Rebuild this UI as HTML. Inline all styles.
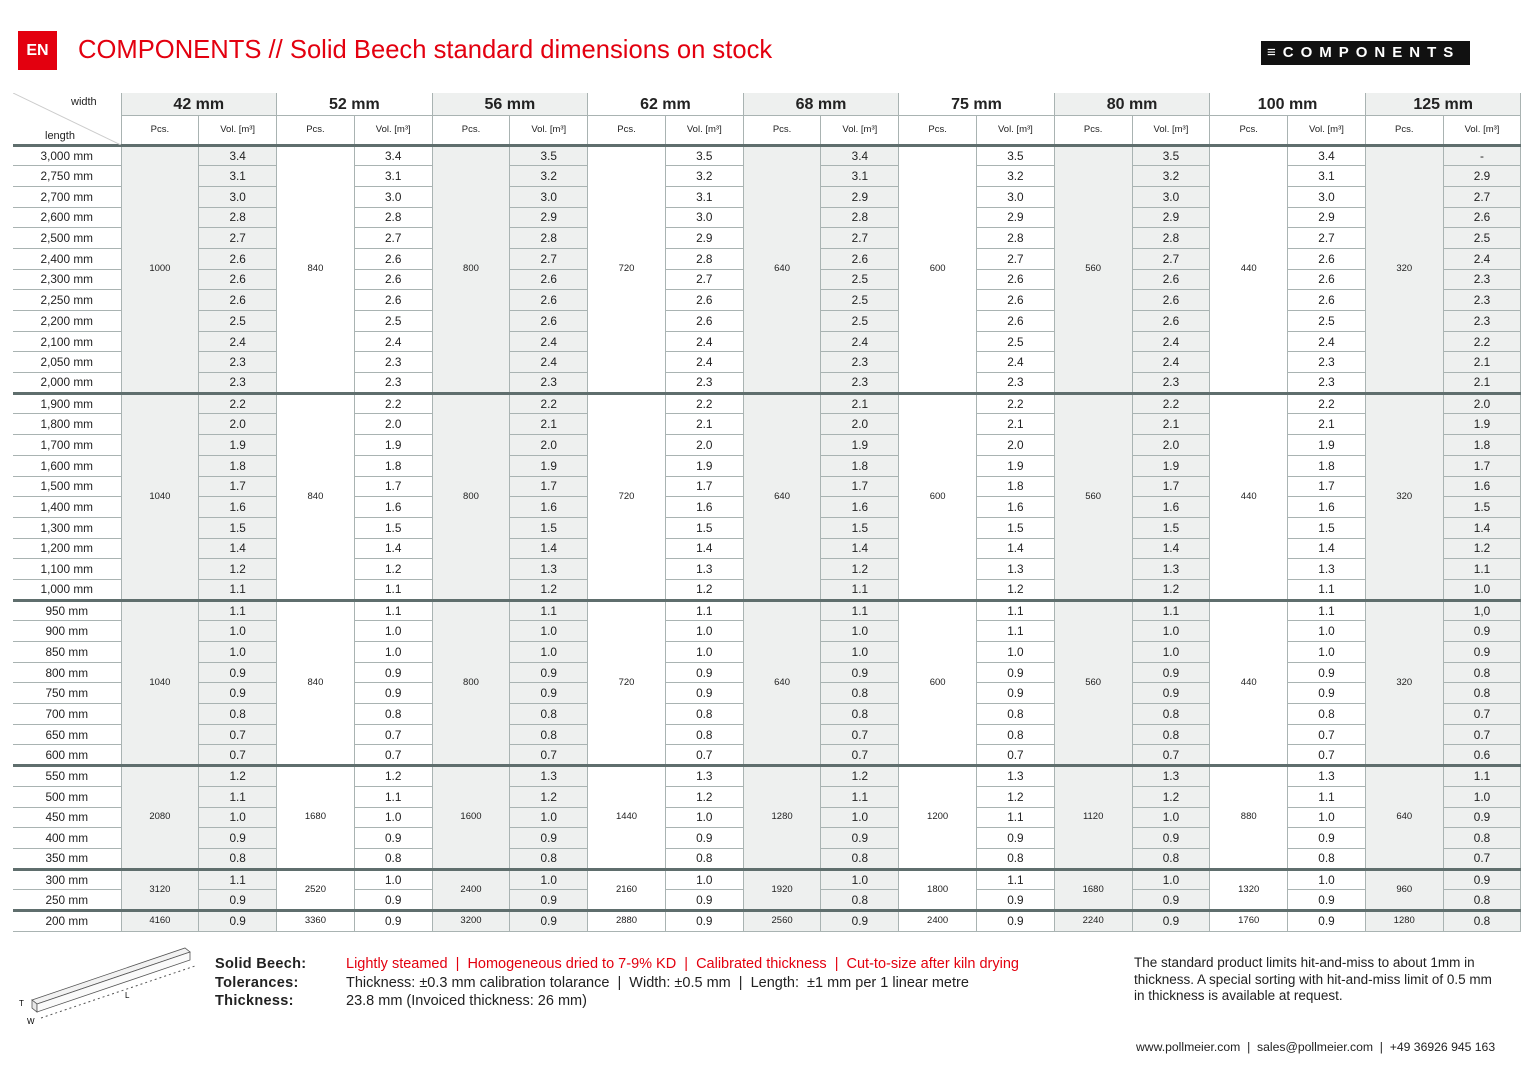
<!DOCTYPE html>
<html><head><meta charset="utf-8"><style>
*{margin:0;padding:0;box-sizing:border-box}
body{width:1536px;height:1086px;background:#fff;font-family:"Liberation Sans",Arial,sans-serif;color:#222;position:relative;overflow:hidden}
.en{position:absolute;left:18px;top:31px;width:39px;height:39px;background:#e3000f;color:#fff;font-weight:bold;font-size:16px;line-height:39px;text-align:center}
.title{position:absolute;left:78px;top:36px;font-size:25.6px;color:#e3000f;white-space:nowrap}
.logo{position:absolute;left:1261px;top:41px;width:209px;height:24px;background:#111;color:#fff;font-weight:bold;font-size:15px;line-height:24px;letter-spacing:7px;padding-left:6px;white-space:nowrap}
table{position:absolute;left:13px;top:93px;width:1508px;border-collapse:collapse;table-layout:fixed}
col.l{width:108px}
col.c{width:77.78px}
col.g{width:77.78px;background:#eef0ef}
td{border:1px solid #a9b3b2;text-align:center;font-size:11.8px;height:20.7px;line-height:14px;padding:0;white-space:nowrap}
td.p{font-size:9.5px}
tr.h1 td{height:22px;font-size:16px;font-weight:bold;border-top:none;padding-top:2px}
tr.h2 td{height:30px;font-size:9.5px;background:#fff}
tr.t td{border-top:3px solid #5f6e6d}
td.len{background:#fff;border-left:none}
td.corner{border:none;border-bottom:3px solid #5f6e6d;position:relative;background:#fff;font-weight:normal !important}
.lab{position:absolute;left:215px;top:955px;font-size:14.5px;font-weight:bold;line-height:18.5px;letter-spacing:.3px}
.val{position:absolute;left:346px;top:955px;font-size:14.5px;line-height:18.5px;white-space:nowrap}
.red{color:#e3000f}
.note{position:absolute;left:1134px;top:955px;width:388px;font-size:13.5px;line-height:16.5px}
.foot{position:absolute;left:1136px;top:1040px;font-size:12.2px;white-space:nowrap}
</style></head><body>
<div class="en">EN</div>
<div class="title">COMPONENTS // Solid Beech standard dimensions on stock</div>
<div class="logo">≡COMPONENTS</div>
<table>
<colgroup><col class="l"><col class="g"><col class="g"><col class="c"><col class="c"><col class="g"><col class="g"><col class="c"><col class="c"><col class="g"><col class="g"><col class="c"><col class="c"><col class="g"><col class="g"><col class="c"><col class="c"><col class="g"><col class="g"></colgroup>
<tr class="h1"><td class="corner" rowspan="2"><svg width="108" height="52" style="position:absolute;left:0;top:0"><line x1="0" y1="0" x2="108" y2="52" stroke="#ccc" stroke-width="1"/><text x="58" y="12" font-size="11" font-weight="normal" font-family="Liberation Sans" fill="#222">width</text><text x="32" y="46" font-size="11" font-weight="normal" font-family="Liberation Sans" fill="#222">length</text></svg></td><td colspan="2">42 mm</td><td colspan="2">52 mm</td><td colspan="2">56 mm</td><td colspan="2">62 mm</td><td colspan="2">68 mm</td><td colspan="2">75 mm</td><td colspan="2">80 mm</td><td colspan="2">100 mm</td><td colspan="2">125 mm</td></tr>
<tr class="h2"><td>Pcs.</td><td>Vol. [m³]</td><td>Pcs.</td><td>Vol. [m³]</td><td>Pcs.</td><td>Vol. [m³]</td><td>Pcs.</td><td>Vol. [m³]</td><td>Pcs.</td><td>Vol. [m³]</td><td>Pcs.</td><td>Vol. [m³]</td><td>Pcs.</td><td>Vol. [m³]</td><td>Pcs.</td><td>Vol. [m³]</td><td>Pcs.</td><td>Vol. [m³]</td></tr>
<tr class="t"><td class="len">3,000 mm</td><td class="p" rowspan="12">1000</td><td>3.4</td><td class="p" rowspan="12">840</td><td>3.4</td><td class="p" rowspan="12">800</td><td>3.5</td><td class="p" rowspan="12">720</td><td>3.5</td><td class="p" rowspan="12">640</td><td>3.4</td><td class="p" rowspan="12">600</td><td>3.5</td><td class="p" rowspan="12">560</td><td>3.5</td><td class="p" rowspan="12">440</td><td>3.4</td><td class="p" rowspan="12">320</td><td>-</td></tr>
<tr><td class="len">2,750 mm</td><td>3.1</td><td>3.1</td><td>3.2</td><td>3.2</td><td>3.1</td><td>3.2</td><td>3.2</td><td>3.1</td><td>2.9</td></tr>
<tr><td class="len">2,700 mm</td><td>3.0</td><td>3.0</td><td>3.0</td><td>3.1</td><td>2.9</td><td>3.0</td><td>3.0</td><td>3.0</td><td>2.7</td></tr>
<tr><td class="len">2,600 mm</td><td>2.8</td><td>2.8</td><td>2.9</td><td>3.0</td><td>2.8</td><td>2.9</td><td>2.9</td><td>2.9</td><td>2.6</td></tr>
<tr><td class="len">2,500 mm</td><td>2.7</td><td>2.7</td><td>2.8</td><td>2.9</td><td>2.7</td><td>2.8</td><td>2.8</td><td>2.7</td><td>2.5</td></tr>
<tr><td class="len">2,400 mm</td><td>2.6</td><td>2.6</td><td>2.7</td><td>2.8</td><td>2.6</td><td>2.7</td><td>2.7</td><td>2.6</td><td>2.4</td></tr>
<tr><td class="len">2,300 mm</td><td>2.6</td><td>2.6</td><td>2.6</td><td>2.7</td><td>2.5</td><td>2.6</td><td>2.6</td><td>2.6</td><td>2.3</td></tr>
<tr><td class="len">2,250 mm</td><td>2.6</td><td>2.6</td><td>2.6</td><td>2.6</td><td>2.5</td><td>2.6</td><td>2.6</td><td>2.6</td><td>2.3</td></tr>
<tr><td class="len">2,200 mm</td><td>2.5</td><td>2.5</td><td>2.6</td><td>2.6</td><td>2.5</td><td>2.6</td><td>2.6</td><td>2.5</td><td>2.3</td></tr>
<tr><td class="len">2,100 mm</td><td>2.4</td><td>2.4</td><td>2.4</td><td>2.4</td><td>2.4</td><td>2.5</td><td>2.4</td><td>2.4</td><td>2.2</td></tr>
<tr><td class="len">2,050 mm</td><td>2.3</td><td>2.3</td><td>2.4</td><td>2.4</td><td>2.3</td><td>2.4</td><td>2.4</td><td>2.3</td><td>2.1</td></tr>
<tr><td class="len">2,000 mm</td><td>2.3</td><td>2.3</td><td>2.3</td><td>2.3</td><td>2.3</td><td>2.3</td><td>2.3</td><td>2.3</td><td>2.1</td></tr>
<tr class="t"><td class="len">1,900 mm</td><td class="p" rowspan="10">1040</td><td>2.2</td><td class="p" rowspan="10">840</td><td>2.2</td><td class="p" rowspan="10">800</td><td>2.2</td><td class="p" rowspan="10">720</td><td>2.2</td><td class="p" rowspan="10">640</td><td>2.1</td><td class="p" rowspan="10">600</td><td>2.2</td><td class="p" rowspan="10">560</td><td>2.2</td><td class="p" rowspan="10">440</td><td>2.2</td><td class="p" rowspan="10">320</td><td>2.0</td></tr>
<tr><td class="len">1,800 mm</td><td>2.0</td><td>2.0</td><td>2.1</td><td>2.1</td><td>2.0</td><td>2.1</td><td>2.1</td><td>2.1</td><td>1.9</td></tr>
<tr><td class="len">1,700 mm</td><td>1.9</td><td>1.9</td><td>2.0</td><td>2.0</td><td>1.9</td><td>2.0</td><td>2.0</td><td>1.9</td><td>1.8</td></tr>
<tr><td class="len">1,600 mm</td><td>1.8</td><td>1.8</td><td>1.9</td><td>1.9</td><td>1.8</td><td>1.9</td><td>1.9</td><td>1.8</td><td>1.7</td></tr>
<tr><td class="len">1,500 mm</td><td>1.7</td><td>1.7</td><td>1.7</td><td>1.7</td><td>1.7</td><td>1.8</td><td>1.7</td><td>1.7</td><td>1.6</td></tr>
<tr><td class="len">1,400 mm</td><td>1.6</td><td>1.6</td><td>1.6</td><td>1.6</td><td>1.6</td><td>1.6</td><td>1.6</td><td>1.6</td><td>1.5</td></tr>
<tr><td class="len">1,300 mm</td><td>1.5</td><td>1.5</td><td>1.5</td><td>1.5</td><td>1.5</td><td>1.5</td><td>1.5</td><td>1.5</td><td>1.4</td></tr>
<tr><td class="len">1,200 mm</td><td>1.4</td><td>1.4</td><td>1.4</td><td>1.4</td><td>1.4</td><td>1.4</td><td>1.4</td><td>1.4</td><td>1.2</td></tr>
<tr><td class="len">1,100 mm</td><td>1.2</td><td>1.2</td><td>1.3</td><td>1.3</td><td>1.2</td><td>1.3</td><td>1.3</td><td>1.3</td><td>1.1</td></tr>
<tr><td class="len">1,000 mm</td><td>1.1</td><td>1.1</td><td>1.2</td><td>1.2</td><td>1.1</td><td>1.2</td><td>1.2</td><td>1.1</td><td>1.0</td></tr>
<tr class="t"><td class="len">950 mm</td><td class="p" rowspan="8">1040</td><td>1.1</td><td class="p" rowspan="8">840</td><td>1.1</td><td class="p" rowspan="8">800</td><td>1.1</td><td class="p" rowspan="8">720</td><td>1.1</td><td class="p" rowspan="8">640</td><td>1.1</td><td class="p" rowspan="8">600</td><td>1.1</td><td class="p" rowspan="8">560</td><td>1.1</td><td class="p" rowspan="8">440</td><td>1.1</td><td class="p" rowspan="8">320</td><td>1,0</td></tr>
<tr><td class="len">900 mm</td><td>1.0</td><td>1.0</td><td>1.0</td><td>1.0</td><td>1.0</td><td>1.1</td><td>1.0</td><td>1.0</td><td>0.9</td></tr>
<tr><td class="len">850 mm</td><td>1.0</td><td>1.0</td><td>1.0</td><td>1.0</td><td>1.0</td><td>1.0</td><td>1.0</td><td>1.0</td><td>0.9</td></tr>
<tr><td class="len">800 mm</td><td>0.9</td><td>0.9</td><td>0.9</td><td>0.9</td><td>0.9</td><td>0.9</td><td>0.9</td><td>0.9</td><td>0.8</td></tr>
<tr><td class="len">750 mm</td><td>0.9</td><td>0.9</td><td>0.9</td><td>0.9</td><td>0.8</td><td>0.9</td><td>0.9</td><td>0.9</td><td>0.8</td></tr>
<tr><td class="len">700 mm</td><td>0.8</td><td>0.8</td><td>0.8</td><td>0.8</td><td>0.8</td><td>0.8</td><td>0.8</td><td>0.8</td><td>0.7</td></tr>
<tr><td class="len">650 mm</td><td>0.7</td><td>0.7</td><td>0.8</td><td>0.8</td><td>0.7</td><td>0.8</td><td>0.8</td><td>0.7</td><td>0.7</td></tr>
<tr><td class="len">600 mm</td><td>0.7</td><td>0.7</td><td>0.7</td><td>0.7</td><td>0.7</td><td>0.7</td><td>0.7</td><td>0.7</td><td>0.6</td></tr>
<tr class="t"><td class="len">550 mm</td><td class="p" rowspan="5">2080</td><td>1.2</td><td class="p" rowspan="5">1680</td><td>1.2</td><td class="p" rowspan="5">1600</td><td>1.3</td><td class="p" rowspan="5">1440</td><td>1.3</td><td class="p" rowspan="5">1280</td><td>1.2</td><td class="p" rowspan="5">1200</td><td>1.3</td><td class="p" rowspan="5">1120</td><td>1.3</td><td class="p" rowspan="5">880</td><td>1.3</td><td class="p" rowspan="5">640</td><td>1.1</td></tr>
<tr><td class="len">500 mm</td><td>1.1</td><td>1.1</td><td>1.2</td><td>1.2</td><td>1.1</td><td>1.2</td><td>1.2</td><td>1.1</td><td>1.0</td></tr>
<tr><td class="len">450 mm</td><td>1.0</td><td>1.0</td><td>1.0</td><td>1.0</td><td>1.0</td><td>1.1</td><td>1.0</td><td>1.0</td><td>0.9</td></tr>
<tr><td class="len">400 mm</td><td>0.9</td><td>0.9</td><td>0.9</td><td>0.9</td><td>0.9</td><td>0.9</td><td>0.9</td><td>0.9</td><td>0.8</td></tr>
<tr><td class="len">350 mm</td><td>0.8</td><td>0.8</td><td>0.8</td><td>0.8</td><td>0.8</td><td>0.8</td><td>0.8</td><td>0.8</td><td>0.7</td></tr>
<tr class="t"><td class="len">300 mm</td><td class="p" rowspan="2">3120</td><td>1.1</td><td class="p" rowspan="2">2520</td><td>1.0</td><td class="p" rowspan="2">2400</td><td>1.0</td><td class="p" rowspan="2">2160</td><td>1.0</td><td class="p" rowspan="2">1920</td><td>1.0</td><td class="p" rowspan="2">1800</td><td>1.1</td><td class="p" rowspan="2">1680</td><td>1.0</td><td class="p" rowspan="2">1320</td><td>1.0</td><td class="p" rowspan="2">960</td><td>0.9</td></tr>
<tr><td class="len">250 mm</td><td>0.9</td><td>0.9</td><td>0.9</td><td>0.9</td><td>0.8</td><td>0.9</td><td>0.9</td><td>0.9</td><td>0.8</td></tr>
<tr class="t"><td class="len">200 mm</td><td class="p">4160</td><td>0.9</td><td class="p">3360</td><td>0.9</td><td class="p">3200</td><td>0.9</td><td class="p">2880</td><td>0.9</td><td class="p">2560</td><td>0.9</td><td class="p">2400</td><td>0.9</td><td class="p">2240</td><td>0.9</td><td class="p">1760</td><td>0.9</td><td class="p">1280</td><td>0.8</td></tr>
</table>
<svg style="position:absolute;left:15px;top:940px" width="180" height="90">
<polygon points="17,60 170,8 175,12 22,64" fill="#f2f2f2" stroke="#555" stroke-width="0.8"/>
<polygon points="17,60 22,64 22,72 17,68" fill="#e8e8e8" stroke="#555" stroke-width="0.8"/>
<polygon points="22,64 175,12 175,20 22,72" fill="#fafafa" stroke="#555" stroke-width="0.8"/>
<line x1="26" y1="78" x2="180" y2="26" stroke="#555" stroke-dasharray="2,3"/>
<text x="110" y="58" font-size="8" font-family="Liberation Sans">L</text>
<text x="4" y="66" font-size="8" font-family="Liberation Sans">T</text>
<text x="12" y="84" font-size="8" font-family="Liberation Sans">W</text>
</svg>
<div class="lab">Solid Beech:<br>Tolerances:<br>Thickness:</div>
<div class="val"><span class="red">Lightly steamed &nbsp;| &nbsp;Homogeneous dried to 7-9% KD &nbsp;| &nbsp;Calibrated thickness &nbsp;| &nbsp;Cut-to-size after kiln drying</span><br>Thickness: ±0.3 mm calibration tolarance &nbsp;| &nbsp;Width: ±0.5 mm &nbsp;| &nbsp;Length: &nbsp;±1 mm per 1 linear metre<br>23.8 mm (Invoiced thickness: 26 mm)</div>
<div class="note">The standard product limits hit-and-miss to about 1mm in<br>thickness. A special sorting with hit-and-miss limit of 0.5 mm<br>in thickness is available at request.</div>
<div class="foot">www.pollmeier.com &nbsp;| &nbsp;sales@pollmeier.com &nbsp;| &nbsp;+49 36926 945 163</div>
</body></html>
